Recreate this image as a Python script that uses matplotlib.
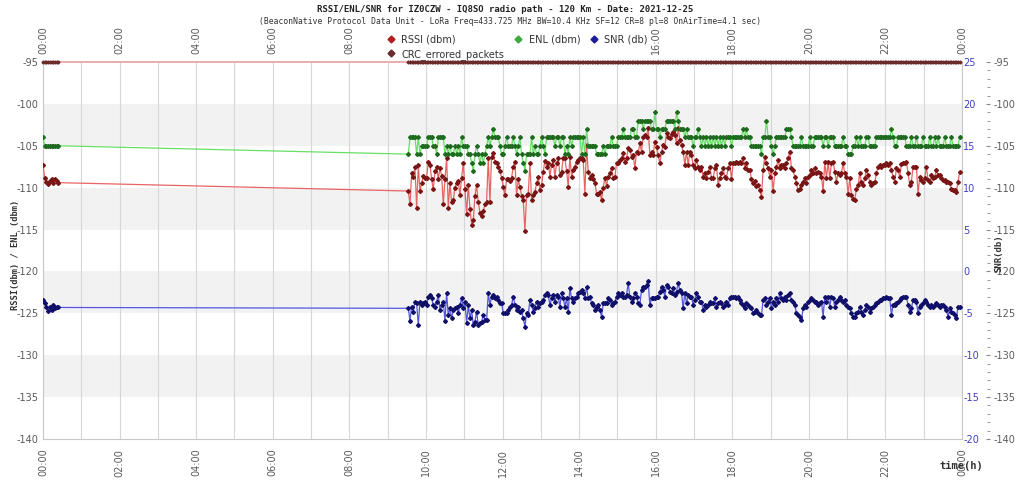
import numpy as np
import matplotlib
matplotlib.use("Agg")
import matplotlib.pyplot as plt
from matplotlib.lines import Line2D
from matplotlib.ticker import MultipleLocator

plt.rcParams["axes.unicode_minus"] = False

# ---- data (hours of day, dBm / dB) ----
rssi_early = [-107.3, -108.8, -109.3, -109.6, -109.2, -109.0, -109.4, -109.0, -109.2, -109.4]
enl_early = [-104, -105, -105, -105, -105, -105, -105, -105, -105, -105]
snr_early = [-3.4, -3.8, -4.3, -4.7, -4.2, -4.6, -4.0, -4.4, -4.2, -4.3]

rssi_late = [
    -110.4, -112.0, -108.3, -108.7, -107.5, -112.4, -107.3, -110.4, -109.5, -108.6,
    -108.8, -108.8, -106.9, -107.3, -109.0, -110.2, -108.0, -107.5, -109.0, -107.7,
    -108.6, -112.0, -109.0, -106.5, -112.4, -109.5, -111.7, -111.5, -110.0, -109.4,
    -109.2, -110.9, -108.8, -107.1, -110.1, -113.2, -109.7, -112.5, -114.4, -113.9,
    -111.0, -109.7, -111.7, -113.0, -113.4, -112.8, -112.0, -111.7, -106.5, -111.7,
    -106.3, -105.9, -106.9, -107.1, -107.5, -108.0, -108.8, -109.9, -110.9, -109.0,
    -109.0, -109.2, -108.8, -107.5, -106.9, -110.9, -109.0, -109.9, -111.0, -111.5,
    -115.2, -110.9, -110.7, -107.1, -111.5, -110.9, -110.5, -109.5, -108.7, -110.3,
    -109.7, -108.1, -106.8, -107.5, -107.0, -108.7, -107.3, -106.7, -108.7, -107.1,
    -106.5, -108.5, -108.1, -106.5, -106.5, -108.0, -109.9, -106.3, -108.7, -107.9,
    -107.5, -106.9, -106.7, -106.5, -106.5, -106.7, -110.7,
    -104.9, -108.1, -108.8, -108.5, -109.0, -109.4, -110.7, -110.7, -110.5, -111.5,
    -110.0, -108.8, -109.8, -108.7, -108.3, -107.7, -108.8, -108.7, -107.1, -107.1,
    -106.7, -106.5, -105.9, -106.9, -106.5, -105.3, -105.5, -106.3, -106.1, -107.7,
    -105.7, -105.9, -104.7, -105.7, -103.9, -103.7, -103.9, -102.9, -106.1, -105.7,
    -106.1, -104.5, -105.1, -106.1, -107.1, -105.7, -104.9, -105.1, -103.5, -103.9,
    -104.1, -103.6, -103.3, -103.7, -104.7, -102.9, -104.3, -104.9, -105.7, -107.3,
    -105.7, -107.3, -105.7, -106.1, -107.3, -107.7, -106.7, -107.5, -107.9, -107.5,
    -108.7, -108.3, -108.8, -108.1, -107.5, -108.8, -108.8, -107.7, -107.3, -109.7,
    -108.8, -108.3, -107.7, -108.7, -108.8, -107.7, -107.1, -109.0, -107.1, -107.1,
    -106.9, -107.1, -106.9, -107.1, -106.5, -107.7, -107.1, -107.9, -107.9, -109.0,
    -109.4, -109.2, -109.8, -109.7, -110.3, -111.1, -107.9, -106.3, -107.1, -107.7,
    -108.7,
    -107.9, -110.4, -108.3, -107.5, -106.7, -107.7, -107.3, -107.3, -107.7, -107.1,
    -106.5, -105.7, -107.7, -107.9, -108.7, -109.5, -110.3, -110.1, -109.7, -109.3,
    -108.9, -109.5, -108.7, -108.5, -107.9, -108.3, -107.7, -108.3, -108.1, -108.3,
    -108.7, -110.4, -106.9, -108.9, -106.9, -108.9, -107.1, -106.9, -108.1, -109.3,
    -108.3, -108.5, -108.3, -107.1, -108.3, -108.7, -110.7, -108.9, -110.9, -111.3,
    -111.5, -110.1, -109.7, -108.3, -109.3, -109.7, -108.9, -107.9, -108.5, -109.3,
    -109.7, -109.5, -109.3, -108.3, -107.5, -107.3, -107.5, -107.3, -107.3, -107.1,
    -107.3, -107.1, -107.9, -108.7, -109.3, -107.7, -107.9, -108.7, -107.2, -107.1,
    -107.1, -106.9, -108.3, -109.7, -109.3, -107.5, -107.5, -107.5, -110.7, -108.7,
    -109.1, -109.3, -108.9, -107.5, -109.1, -109.3, -108.5, -108.9, -108.7, -107.9,
    -108.5, -108.5, -108.9, -109.1, -109.1, -109.3, -109.3, -109.5, -110.1, -110.3,
    -110.3, -110.5, -109.3, -108.1,
]

enl_late = [
    -106, -104, -104, -104, -104, -106, -104, -106, -105, -105,
    -105, -105, -104, -104, -104, -105, -105, -106, -104, -104,
    -104, -104, -106, -105, -106, -105, -106, -106, -105, -106,
    -105, -106, -104, -105, -105, -105, -106, -106, -107, -108,
    -106, -105, -106, -107, -106, -107, -106, -105, -104, -105,
    -104, -103, -104, -104, -104, -105, -106, -106, -105, -104,
    -105, -105, -105, -104, -105, -106, -105, -104, -106, -107,
    -108, -106, -106, -106, -104, -106, -105, -106, -106, -105,
    -104, -105, -106, -104, -104, -104, -104, -104, -105, -104,
    -104, -105, -104, -104, -106, -105, -106, -104, -105, -104,
    -104, -104, -104, -104, -106, -104, -106,
    -103, -105, -105, -105, -105, -105, -106, -106, -106, -106,
    -105, -106, -105, -105, -105, -104, -105, -105, -105, -104,
    -104, -104, -103, -104, -104, -104, -104, -103, -103, -104,
    -104, -102, -102, -102, -103, -102, -102, -102, -102, -103,
    -103, -101, -103, -103, -104, -103, -103, -103, -102, -102,
    -102, -102, -102, -103, -101, -102, -103, -103, -103, -104,
    -103, -104, -104, -104, -105, -104, -104, -103, -104, -105,
    -104, -105, -104, -105, -104, -105, -104, -105, -104, -105,
    -104, -105, -104, -105, -104, -104, -104, -105, -104, -104,
    -104, -104, -104, -104, -103, -104, -103, -104, -104, -105,
    -105, -105, -105, -105, -105, -106, -104, -104, -102, -104,
    -104,
    -105, -106, -105, -104, -104, -104, -104, -104, -104, -103,
    -103, -103, -104, -105, -105, -105, -105, -105, -104, -105,
    -105, -105, -105, -104, -105, -105, -104, -104, -104, -104,
    -104, -105, -104, -104, -105, -104, -104, -104, -105, -105,
    -105, -105, -105, -104, -105, -105, -106, -106, -106, -105,
    -105, -104, -105, -104, -105, -105, -105, -104, -104, -105,
    -105, -105, -105, -104, -104, -104, -104, -104, -104, -104,
    -104, -104, -103, -104, -105, -105, -104, -104, -104, -104,
    -104, -105, -105, -105, -104, -105, -105, -104, -105, -105,
    -105, -104, -105, -105, -105, -104, -105, -105, -104, -105,
    -104, -105, -105, -105, -104, -105, -105, -105, -104, -105,
    -105, -105, -105, -104,
]

snr_late = [
    -4.4, -5.9, -4.2, -4.8, -3.6, -3.8, -6.4, -3.6, -4.0, -3.8,
    -3.6, -4.0, -3.0, -2.8, -3.2, -4.0, -4.2, -3.6, -2.8, -4.6,
    -4.0, -3.6, -5.9, -2.6, -5.2, -4.4, -5.6, -4.6, -4.4, -4.2,
    -5.0, -4.0, -3.2, -4.4, -3.6, -6.2, -4.0, -5.6, -4.6, -6.4,
    -6.0, -4.8, -6.4, -6.2, -6.0, -5.2, -5.8, -5.8, -2.6, -4.0,
    -3.0, -2.8, -3.2, -3.0, -3.4, -3.8, -3.8, -5.0, -5.0, -5.0,
    -4.6, -4.2, -4.0, -3.0, -4.0, -4.6, -4.2, -4.8, -4.6, -5.6,
    -6.6, -5.0, -5.2, -3.4, -4.0, -4.8, -4.4, -3.6, -4.2, -3.8,
    -3.6, -3.4, -2.8, -2.6, -2.8, -4.0, -3.2, -2.8, -3.6, -2.8,
    -3.0, -4.2, -2.6, -3.2, -4.2, -3.2, -4.8, -2.0, -3.2, -3.6,
    -3.2, -3.0, -2.6, -2.4, -2.2, -2.6, -3.2,
    -1.8, -3.2, -3.0, -3.8, -4.0, -4.6, -4.2, -4.0, -4.6, -5.4,
    -3.8, -3.8, -3.8, -3.2, -3.4, -4.0, -3.8, -3.6, -3.0, -2.6,
    -2.8, -2.6, -3.0, -3.0, -2.8, -1.4, -3.0, -3.6, -3.2, -2.6,
    -3.0, -3.8, -4.0, -2.2, -1.8, -1.8, -1.6, -1.2, -4.0, -3.2,
    -3.2, -3.2, -3.0, -3.0, -2.4, -1.8, -2.2, -3.0, -1.6, -1.8,
    -2.4, -2.6, -2.0, -2.8, -2.4, -1.4, -2.2, -2.6, -4.4, -2.6,
    -3.8, -2.8, -3.0, -3.0, -4.0, -3.4, -2.6, -3.0, -3.6, -3.6,
    -4.6, -4.0, -4.2, -4.0, -3.6, -3.8, -3.8, -3.2, -4.2, -3.8,
    -3.6, -3.8, -4.2, -4.0, -3.6, -4.0, -3.2, -3.0, -3.0, -3.0,
    -3.2, -3.0, -3.4, -3.8, -4.0, -4.4, -3.8, -4.0, -4.2, -4.4,
    -5.0, -4.8, -4.6, -5.0, -5.2, -5.2, -3.4, -3.2, -4.0, -3.6,
    -3.2,
    -4.4, -3.6, -4.0, -3.2, -3.6, -2.6, -3.2, -3.4, -3.0, -3.4,
    -2.8, -2.6, -3.4, -3.6, -4.0, -5.0, -5.2, -5.4, -5.8, -4.4,
    -4.0, -4.2, -3.6, -3.4, -3.2, -3.4, -3.6, -3.6, -4.0, -3.8,
    -3.6, -5.4, -3.0, -3.6, -3.0, -4.2, -3.0, -3.2, -4.2, -3.6,
    -3.4, -3.0, -3.4, -3.6, -3.4, -4.0, -4.2, -4.4, -5.0, -5.4,
    -5.4, -5.0, -4.8, -4.2, -4.8, -5.2, -4.6, -4.0, -4.2, -4.8,
    -4.4, -4.2, -4.0, -3.8, -3.6, -3.4, -3.4, -3.2, -3.2, -3.1,
    -3.2, -3.2, -5.2, -4.0, -4.0, -3.8, -3.6, -3.4, -3.2, -3.1,
    -3.0, -3.0, -4.0, -4.8, -4.4, -3.4, -3.4, -3.6, -5.0, -4.2,
    -4.0, -3.8, -3.4, -3.6, -4.0, -4.2, -4.0, -4.2, -4.0, -3.8,
    -4.0, -4.2, -4.0, -4.0, -4.2, -4.6, -5.4, -4.4, -4.8, -5.0,
    -5.2, -5.6, -4.2, -4.2,
]

# packets logged from 00:00 to 00:24 and from 09:32 to 23:56
t_early = np.linspace(0.0, 0.4, len(rssi_early))
t_late = np.linspace(9.54, 23.94, len(rssi_late))
hours = np.concatenate([t_early, t_late])
rssi = np.array(rssi_early + rssi_late)
enl = np.array(enl_early + enl_late)
snr = np.array(snr_early + snr_late)
crc_errored = np.zeros(len(hours))

hour_ticks = list(range(0, 25, 2))
hour_labels = ["%02d:00" % (h % 24) for h in hour_ticks]
# the legend sits over 10:00-14:00 on the top axis
top_labels = ["" if 10 <= h <= 14 else lab for h, lab in zip(hour_ticks, hour_labels)]

title = "RSSI/ENL/SNR for IZ0CZW - IQ8SO radio path - 120 Km - Date: 2021-12-25"
subtitle = ("(BeaconNative Protocol Data Unit - LoRa Freq=433.725 MHz BW=10.4 KHz "
            "SF=12 CR=8 pl=8 OnAirTime=4.1 sec)")

mono = "DejaVu Sans Mono"
grey = "#5a5a5a"

fig = plt.figure(figsize=(10.24, 4.82), dpi=100)
ax = fig.add_axes([43 / 1024, 1 - 439 / 482, 919 / 1024, 377 / 482])

for lo in (-105, -115, -125, -135):
    ax.axhspan(lo, lo + 5, color="#f2f2f2", zorder=0, lw=0)

ax.set_xlim(0, 24)
ax.set_ylim(-140, -95)
ax.set_xticks(hour_ticks)
ax.set_xticklabels(hour_labels, rotation=90)
ax.xaxis.set_minor_locator(MultipleLocator(1))
ax.grid(axis="x", which="both", color="#d6d6d6", lw=0.8, zorder=0.5)
ax.set_yticks(range(-140, -94, 5))
ax.tick_params(axis="x", which="both", length=0, pad=7, labelsize=7, labelcolor=grey)
ax.tick_params(axis="y", length=0, pad=3, labelsize=7, labelcolor=grey)
for side in ("left", "bottom", "right"):
    ax.spines[side].set_color("#c8c8c8")
ax.spines["top"].set_visible(False)

top = ax.secondary_xaxis("top")
top.set_xticks(hour_ticks)
top.set_xticklabels(top_labels, rotation=90)
top.tick_params(length=0, pad=6, labelsize=7, labelcolor=grey)
top.spines["top"].set_visible(False)

ax.plot(hours, rssi, color="#e86464", lw=0.9, marker="D", ms=2.0,
        mfc="#7a1515", mec="#7a1515", zorder=3)
ax.plot(hours, enl, color="#66e066", lw=0.9, marker="D", ms=2.0,
        mfc="#1e6a1e", mec="#1e6a1e", zorder=3)
ax.plot(hours, -95 + crc_errored, color="#e8a8a8", lw=1.3, marker="D", ms=1.5,
        mfc="#6a2a2a", mec="#6a2a2a", zorder=4, clip_on=False)

# SNR scale on the right (blue numbers)
ax2 = ax.twinx()
ax2.set_ylim(-20, 25)
ax2.set_yticks(range(-20, 26, 5))
ax2.tick_params(length=0, pad=1, labelsize=7, labelcolor="#4040c0")
for s in ax2.spines.values():
    s.set_visible(False)
ax2.plot(hours, snr, color="#5555e0", lw=0.9, marker="D", ms=2.0,
         mfc="#10106a", mec="#10106a", zorder=3)

# repeated dBm scale further right
ax3 = ax.twinx()
ax3.set_ylim(-140, -95)
ax3.spines["right"].set_position(("outward", 20))
for s in ax3.spines.values():
    s.set_visible(False)
ax3.set_yticks(range(-140, -94, 5))
ax3.yaxis.set_minor_locator(MultipleLocator(1))
ax3.tick_params(which="major", direction="in", length=3, pad=3, color="#888888",
                labelsize=7, labelcolor=grey)
ax3.tick_params(which="minor", direction="in", length=2, color="#888888")

handles = [
    Line2D([], [], ls="none", marker="D", ms=3.5, color="#b01c1c"),
    Line2D([], [], ls="none", marker="D", ms=3.5, color="#6a2a2a"),
    Line2D([], [], ls="none", marker="D", ms=3.5, color="#3caa3c"),
    Line2D([], [], ls="none", marker="D", ms=3.5, color="#1a1a9a"),
]
labels = ["RSSI (dbm)", "CRC_errored_packets", "ENL (dbm)", "SNR (db)"]
fig.legend(handles, labels, loc="upper left", bbox_to_anchor=(378 / 1024, 1 - 27 / 482),
           ncol=3, fontsize=7, frameon=False, handlelength=1.0, handletextpad=0.6,
           columnspacing=0.9, borderpad=0.3, labelspacing=0.4, labelcolor="#333333")

fig.text(505 / 1024, 1 - 9 / 482, title, ha="center", va="center",
         fontsize=6.5, family=mono, weight="bold", color="#222222")
fig.text(510 / 1024, 1 - 22 / 482, subtitle, ha="center", va="center",
         fontsize=5.8, family=mono, color="#333333")
fig.text(16 / 1024, 1 - 255 / 482, "RSSI(dbm) / ENL (dbm)", rotation=90,
         ha="center", va="center", fontsize=6.3, family=mono, weight="bold", color="#333333")
fig.text(961 / 1024, 1 - 466 / 482, "time(h)", ha="center", va="center",
         fontsize=7.5, family=mono, weight="bold", color="#333333")
fig.text(999 / 1024, 1 - 253 / 482, "SNR(db)", rotation=90, ha="center", va="center",
         fontsize=6.5, family=mono, weight="bold", color="#333333")

fig.savefig("out.png", dpi=100)
